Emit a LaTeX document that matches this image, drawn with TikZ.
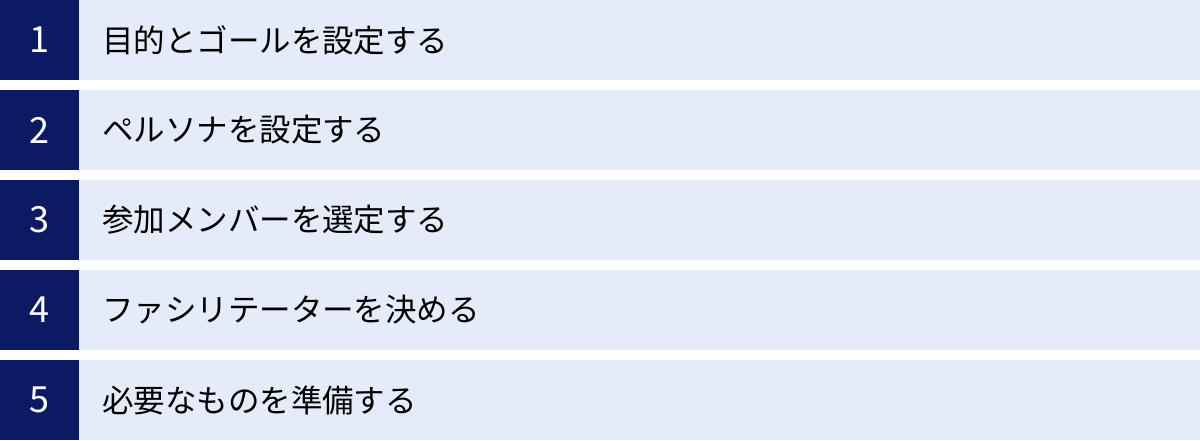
\documentclass[tikz,border=0pt]{standalone}
\usepackage{fontspec}
\setmainfont{Noto Sans CJK JP}
\usetikzlibrary{positioning}
\definecolor{navy}{RGB}{12,26,99}
\definecolor{pale}{RGB}{229,236,249}
\tikzset{
	every node/.style = {inner sep=0pt, outer sep=0pt},
	numbox/.style = {fill=navy, minimum width=79pt, minimum height=80pt, text=white, font=\fontsize{36}{36}\selectfont},
	band/.style = {fill=pale, minimum width=1121pt, minimum height=80pt},
	label/.style = {anchor=west, text=black, font=\fontsize{31.5}{31.5}\selectfont}
}

\begin{document}
\begin{tikzpicture}[x=1pt, y=-1pt]
		\useasboundingbox (0,0) rectangle (1200,441);
		% rows
		\foreach \i/\txt in {1/目的とゴールを設定する, 2/ペルソナを設定する, 3/参加メンバーを選定する, 4/ファシリテーターを決める, 5/必要なものを準備する}
		{
			\node[band] (b\i) at (639.5, {(\i-1)*90+40}) {};
			\node[numbox] (n\i) at (39.5, {(\i-1)*90+40}) {\i};
			\node[label] (t\i) at (102, {(\i-1)*90+40}) {\txt};
		}
	\end{tikzpicture}
\end{document}
